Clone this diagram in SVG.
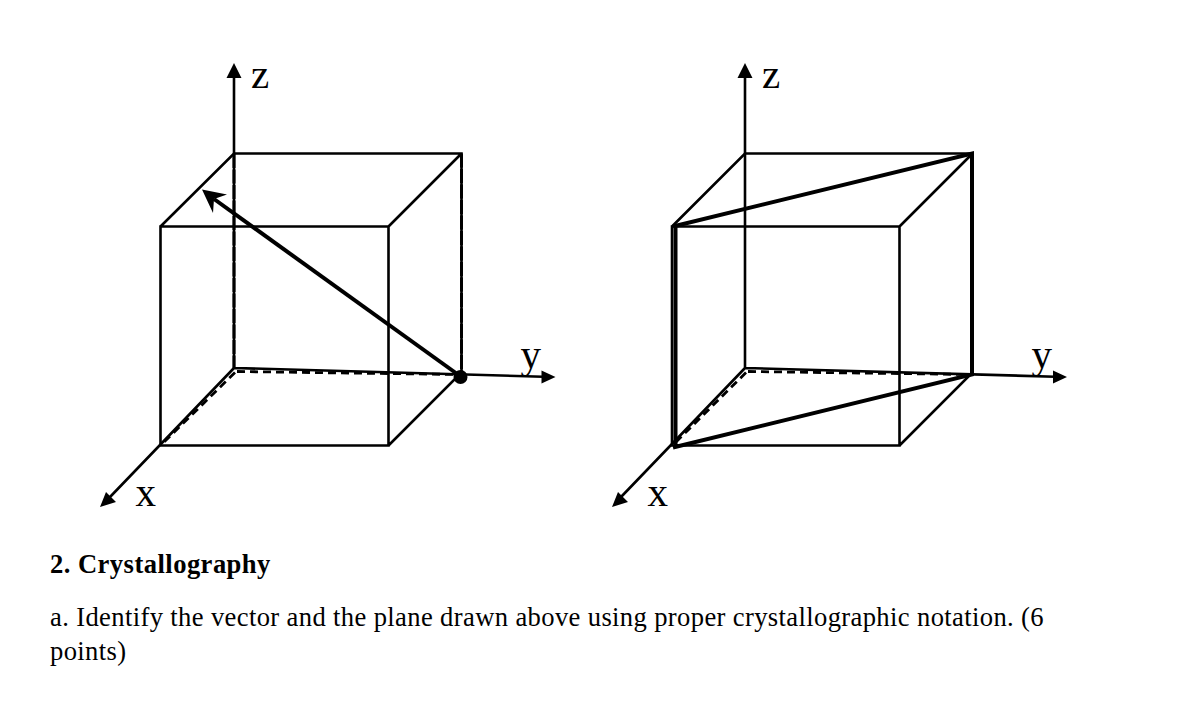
<svg xmlns="http://www.w3.org/2000/svg" width="1182" height="702" viewBox="0 0 1182 702">
<style>
.l{fill:none;stroke:#000;stroke-width:2.6}
.d{fill:none;stroke:#000;stroke-width:2.8;stroke-dasharray:8 5}
.e{fill:none;stroke:#000;stroke-width:3;stroke-dasharray:14 1.500}
.h{fill:none;stroke:#000;stroke-width:4}
.a{fill:#000;stroke:none}
text{font-family:"Liberation Serif","Times New Roman",serif;fill:#000}
.ax{font-size:41px}
.t{font-size:26.6px;letter-spacing:.365px}
.b{font-weight:bold;letter-spacing:.45px}
</style>
<rect width="1182" height="702" fill="#fff"/>
<g id="connectors">
<g id="left-axes">
<path class="l" d="M234 368V76M234 368L543 376.700M234 368L110 497"/>
<path class="a" d="M234 63L241.500 78H226.500ZM555.500 377L541.500 383.500V370.500ZM100 507L106 492L116 502Z"/>
</g>
<g id="left-cube">
<path class="l" d="M160.500 226.500H388.500V445.500H160.500ZM160.500 226.500L234 153.500H461.500V372.500L388.500 445.500M388.500 226.500L461.500 153.500"/>
<path class="d" d="M237 371.500L459 374.500M235 372.500L163 443"/>
<path class="e" d="M461.500 153.500V372.500M234 154V368"/>
</g>
<g id="left-vector">
<path class="h" d="M460 376L214 199"/>
<path class="a" d="M202 189.500L227 194.500L214 199L213 213Z"/>
<circle class="a" cx="460.500" cy="377" r="7"/>
</g>
<g id="right-axes">
<path class="l" d="M745 368V76M745 368L1055 376.700M745 368L621 497"/>
<path class="a" d="M745 63L752.500 78H737.500ZM1067 377L1053 383.500V370.500ZM612 507L618 492L628 502Z"/>
</g>
<g id="right-cube">
<path class="l" d="M672 226.500H899.500V445.500H672ZM672 226.500L745 153.500H972.500V372.500L899.500 445.500M899.500 226.500L972.500 153.500"/>
<path class="d" d="M748 371.500L970 374.500M746 372.500L676 442"/>
</g>
<g id="right-plane">
<path class="h" d="M675.500 226.500V447M673 226.500L972 153.500V374.500L673 447.500"/>
</g>
</g>
<g id="labels">
<text class="ax" x="251" y="88">z</text>
<text class="ax" x="762" y="88">z</text>
<text class="ax" x="520.500" y="368">y</text>
<text class="ax" x="1031.500" y="368">y</text>
<text class="ax" x="135.500" y="506">x</text>
<text class="ax" x="647.500" y="506">x</text>
</g>
<g id="caption">
<text class="t b" x="50" y="573">2. Crystallography</text>
<text class="t" x="50" y="626">a. Identify the vector and the plane drawn above using proper crystallographic notation. (6</text>
<text class="t" x="50" y="660">points)</text>
</g>
</svg>
